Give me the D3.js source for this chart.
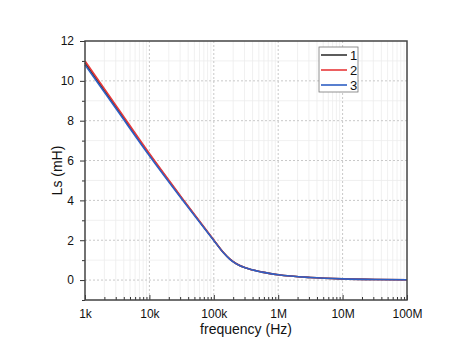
<!DOCTYPE html>
<html><head><meta charset="utf-8">
<script src="https://cdn.jsdelivr.net/npm/d3@7/dist/d3.min.js"></script>
<style>body{margin:0;background:#fff}svg{display:block}text{font-family:"Liberation Sans",Arial,sans-serif}</style>
</head><body><svg id="c" width="474" height="362"></svg>
<script>
const freqs = [1e3, 3.16e3, 1e4, 3.16e4, 1e5, 1.41e5, 1.78e5, 2.24e5, 3.16e5, 5.62e5, 1e6, 3.16e6, 1e7, 3.16e7, 1e8];
const ls1 = [10.9, 8.6, 6.3, 4.12, 2.0, 1.38, 1.05, 0.82, 0.6, 0.4, 0.27, 0.13, 0.06, 0.03, 0.02];
const ls2 = [11.0, 8.68, 6.35, 4.15, 2.01, 1.38, 1.05, 0.82, 0.6, 0.4, 0.27, 0.13, 0.06, 0.03, 0.02];
const ls3 = [10.8, 8.52, 6.24, 4.08, 1.99, 1.37, 1.04, 0.81, 0.6, 0.4, 0.27, 0.13, 0.06, 0.03, 0.02];
const seriesNames = ["1", "2", "3"];
const seriesColors = ["#333333", "#e8393a", "#2f5fc4"];
const xTickVals = [1e3, 1e4, 1e5, 1e6, 1e7, 1e8];
const xTickLabels = ["1k", "10k", "100k", "1M", "10M", "100M"];
const yTickVals = [0, 2, 4, 6, 8, 10, 12];

const L = 85, R = 407, T = 41, B = 300;
const svg = d3.select("#c");
const x = d3.scaleLog().domain([1e3, 1e8]).range([L, R]);
const y = d3.scaleLinear().domain([-1, 12]).range([B, T]);

// minor grid
const minorX = [];
for (let d = 3; d < 8; d++) for (let m = 2; m <= 9; m++) minorX.push(m * Math.pow(10, d));
const g = svg.append("g");
g.selectAll(".mx").data(minorX).join("line")
  .attr("x1", d => x(d)).attr("x2", d => x(d)).attr("y1", T).attr("y2", B)
  .attr("stroke", "#ececec").attr("stroke-width", 0.8);
const minorY = [-1, 1, 3, 5, 7, 9, 11];
g.selectAll(".my").data(minorY).join("line")
  .attr("x1", L).attr("x2", R).attr("y1", d => y(d)).attr("y2", d => y(d))
  .attr("stroke", "#ececec").attr("stroke-width", 0.8);
// major grid
g.selectAll(".gx").data(xTickVals.slice(1, -1)).join("line")
  .attr("x1", d => x(d)).attr("x2", d => x(d)).attr("y1", T).attr("y2", B)
  .attr("stroke", "#c8c8c8").attr("stroke-width", 1).attr("stroke-dasharray", "2,2");
g.selectAll(".gy").data(yTickVals.slice(0, -1)).join("line")
  .attr("x1", L).attr("x2", R).attr("y1", d => y(d)).attr("y2", d => y(d))
  .attr("stroke", "#c8c8c8").attr("stroke-width", 1).attr("stroke-dasharray", "2,2");

// lines
const data = [ls1, ls2, ls3];
const line = d3.line().x((d, i) => x(freqs[i])).y(d => y(d)).curve(d3.curveMonotoneX);
data.forEach((s, k) => {
  svg.append("path").datum(s).attr("d", line).attr("fill", "none")
    .attr("stroke", seriesColors[k]).attr("stroke-width", 1.6);
});

// axes
const xAxis = d3.axisBottom(x).tickValues(xTickVals).tickFormat((d, i) => xTickLabels[i]).tickSizeInner(-5).tickSizeOuter(0).tickPadding(9);
const ax = svg.append("g").attr("transform", `translate(0,${B})`).call(xAxis);
ax.select(".domain").remove();
ax.selectAll("line").attr("stroke", "#333");
ax.selectAll("text").attr("font-size", 12).attr("fill", "#111");
svg.append("g").attr("transform", `translate(0,${B})`)
  .call(d3.axisBottom(x).tickValues(minorX).tickFormat("").tickSizeInner(-3).tickSizeOuter(0))
  .call(s => s.select(".domain").remove()).selectAll("line").attr("stroke", "#333");

const yAxis = d3.axisLeft(y).tickValues(yTickVals).tickSizeInner(5).tickSizeOuter(0).tickPadding(6);
const ay = svg.append("g").attr("transform", `translate(${L},0)`).call(yAxis);
ay.select(".domain").remove();
ay.selectAll("line").attr("stroke", "#333");
ay.selectAll("text").attr("font-size", 12).attr("fill", "#111");
svg.append("g").attr("transform", `translate(${L},0)`)
  .call(d3.axisLeft(y).tickValues(minorY).tickFormat("").tickSizeInner(3).tickSizeOuter(0))
  .call(s => s.select(".domain").remove()).selectAll("line").attr("stroke", "#333");

// frame
svg.append("rect").attr("x", L).attr("y", T).attr("width", R - L).attr("height", B - T)
  .attr("fill", "none").attr("stroke", "#444").attr("stroke-width", 1.5);

// titles
svg.append("text").attr("x", (L + R) / 2).attr("y", 334).attr("text-anchor", "middle")
  .attr("font-size", 14).attr("fill", "#111").text("frequency (Hz)");
svg.append("text").attr("transform", `translate(62,${(T + B) / 2}) rotate(-90)`).attr("text-anchor", "middle")
  .attr("font-size", 14).attr("fill", "#111").text("Ls (mH)");

// legend
const lg = svg.append("g");
lg.append("rect").attr("x", 319).attr("y", 47).attr("width", 39).attr("height", 45)
  .attr("fill", "#fff").attr("stroke", "#777").attr("stroke-width", 0.8);
seriesNames.forEach((n, i) => {
  const yy = 55 + i * 15;
  lg.append("line").attr("x1", 321).attr("x2", 347).attr("y1", yy).attr("y2", yy)
    .attr("stroke", seriesColors[i]).attr("stroke-width", 1.6);
  lg.append("text").attr("x", 350).attr("y", yy + 5).attr("font-size", 13).attr("fill", "#111").text(n);
});
</script></body></html>
